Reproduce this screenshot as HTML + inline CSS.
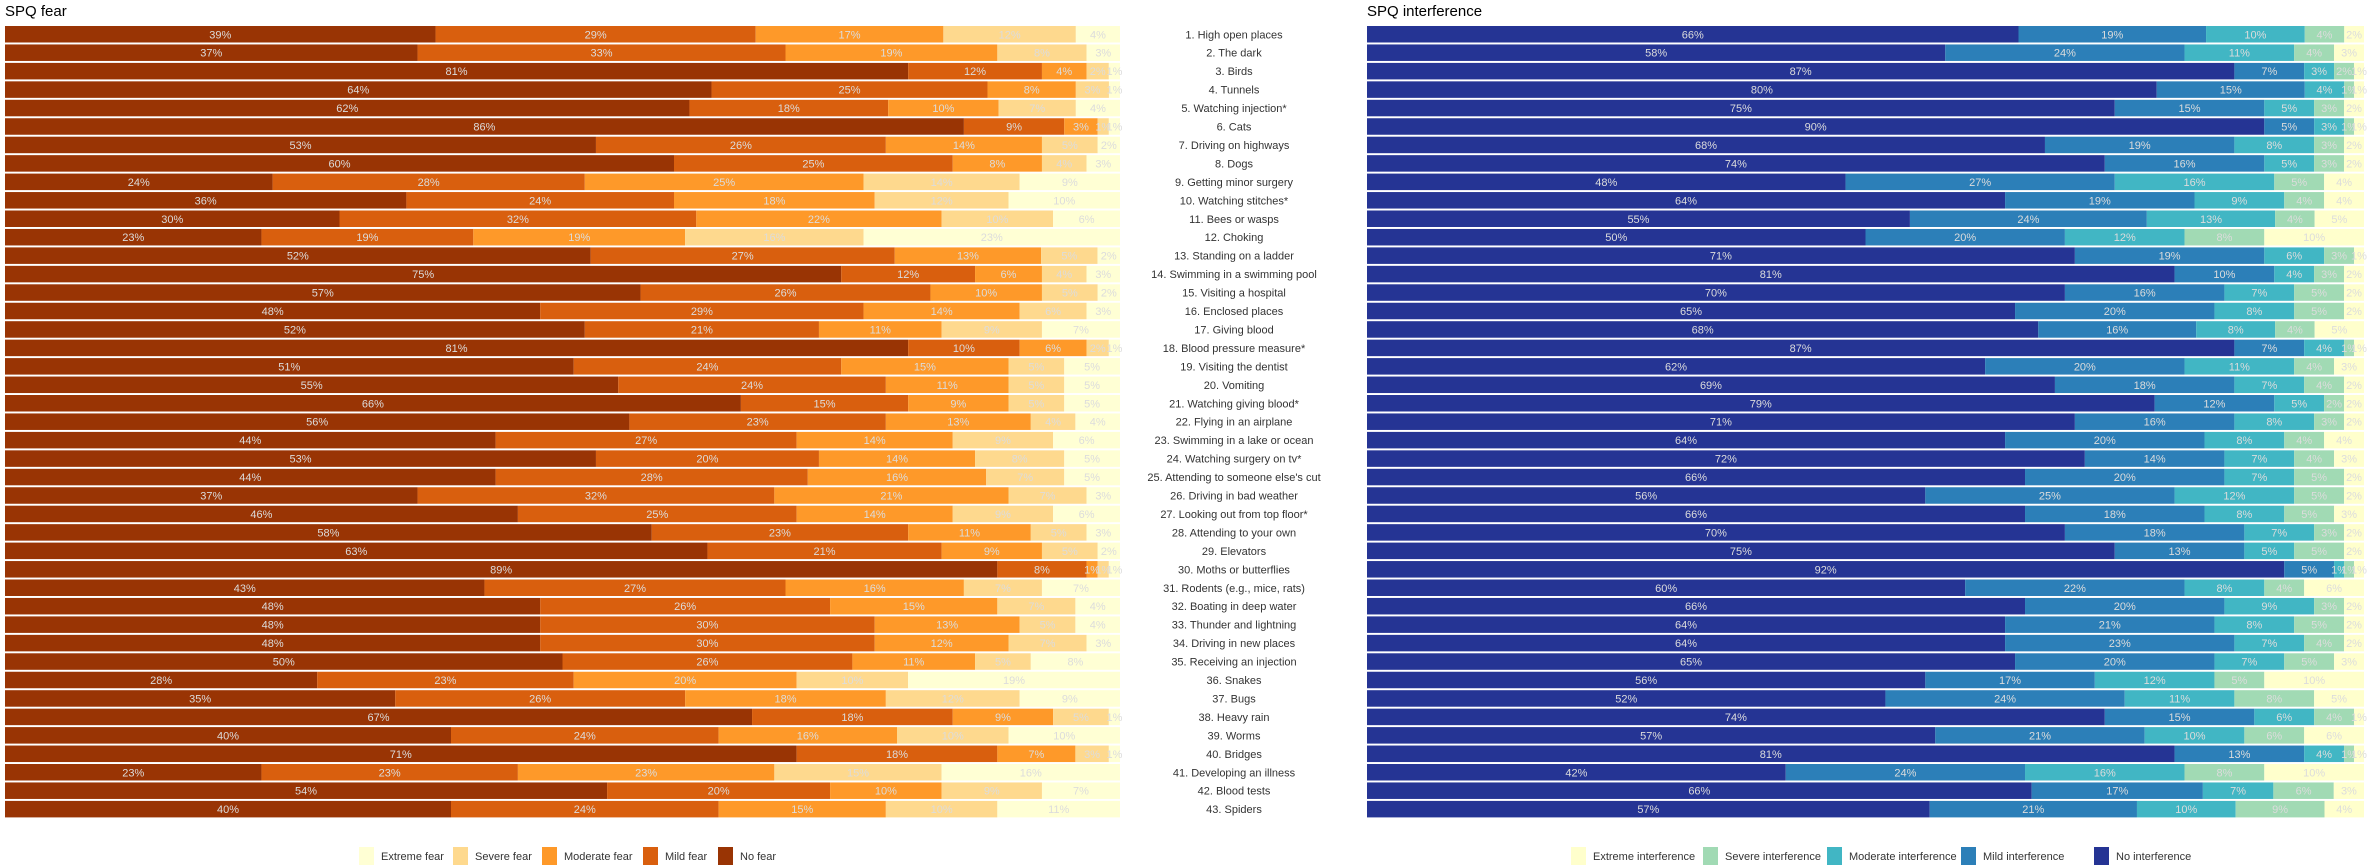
<!DOCTYPE html>
<html><head><meta charset="utf-8"><style>
html,body{margin:0;padding:0;background:#fff;}
svg{display:block;}
text{font-family:"Liberation Sans Narrow","Liberation Sans",sans-serif;}
</style></head><body>
<svg id="chart" width="2367" height="866" xmlns="http://www.w3.org/2000/svg">
<text x="5" y="16" font-size="15" fill="#000">SPQ fear</text>
<text x="1367" y="16" font-size="15" fill="#000">SPQ interference</text>
<g id="bars"></g>
</svg>
<script>
const items = ["1. High open places","2. The dark","3. Birds","4. Tunnels","5. Watching injection*","6. Cats","7. Driving on highways","8. Dogs","9. Getting minor surgery","10. Watching stitches*","11. Bees or wasps","12. Choking","13. Standing on a ladder","14. Swimming in a swimming pool","15. Visiting a hospital","16. Enclosed places","17. Giving blood","18. Blood pressure measure*","19. Visiting the dentist","20. Vomiting","21. Watching giving blood*","22. Flying in an airplane","23. Swimming in a lake or ocean","24. Watching surgery on tv*","25. Attending to someone else's cut","26. Driving in bad weather","27. Looking out from top floor*","28. Attending to your own","29. Elevators","30. Moths or butterflies","31. Rodents (e.g., mice, rats)","32. Boating in deep water","33. Thunder and lightning","34. Driving in new places","35. Receiving an injection","36. Snakes","37. Bugs","38. Heavy rain","39. Worms","40. Bridges","41. Developing an illness","42. Blood tests","43. Spiders"];
const fearNo =       [39,37,81,64,62,86,53,60,24,36,30,23,52,75,57,48,52,81,51,55,66,56,44,53,44,37,46,58,63,89,43,48,48,48,50,28,35,67,40,71,23,54,40];
const fearMild =     [29,33,12,25,18,9,26,25,28,24,32,19,27,12,26,29,21,10,24,24,15,23,27,20,28,32,25,23,21,8,27,26,30,30,26,23,26,18,24,18,23,20,24];
const fearModerate = [17,19,4,8,10,3,14,8,25,18,22,19,13,6,10,14,11,6,15,11,9,13,14,14,16,21,14,11,9,1,16,15,13,12,11,20,18,9,16,7,23,10,15];
const fearSevere =   [12,8,2,3,7,1,5,4,14,12,10,16,5,4,5,6,9,2,5,5,5,4,9,8,7,7,9,5,5,1,7,7,5,7,5,10,12,5,10,3,15,9,10];
const fearExtreme =  [4,3,1,1,4,1,2,3,9,10,6,23,2,3,2,3,7,1,5,5,5,4,6,5,5,3,6,3,2,1,7,4,4,3,8,19,9,1,10,1,16,7,11];
const intNo =        [66,58,87,80,75,90,68,74,48,64,55,50,71,81,70,65,68,87,62,69,79,71,64,72,66,56,66,70,75,92,60,66,64,64,65,56,52,74,57,81,42,66,57];
const intMild =      [19,24,7,15,15,5,19,16,27,19,24,20,19,10,16,20,16,7,20,18,12,16,20,14,20,25,18,18,13,5,22,20,21,23,20,17,24,15,21,13,24,17,21];
const intModerate =  [10,11,3,4,5,3,8,5,16,9,13,12,6,4,7,8,8,4,11,7,5,8,8,7,7,12,8,7,5,1,8,9,8,7,7,12,11,6,10,4,16,7,10];
const intSevere =    [4,4,2,1,3,1,3,3,5,4,4,8,3,3,5,5,4,1,4,4,2,3,4,4,5,5,5,3,5,1,4,3,5,4,5,5,8,4,6,1,8,6,9];
const intExtreme =   [2,3,1,1,2,1,2,2,4,4,5,10,1,2,2,2,5,1,3,2,2,2,4,3,2,2,3,2,2,1,6,2,2,2,3,10,5,1,6,1,10,3,4];

const fearNames = ["No fear","Mild fear","Moderate fear","Severe fear","Extreme fear"];
const intNames = ["No interference","Mild interference","Moderate interference","Severe interference","Extreme interference"];
const fearColors = ["#993404","#d95f0e","#fe9929","#fed98e","#ffffd4"];
const intColors = ["#253494","#2c7fb8","#41b6c4","#a1dab4","#ffffcc"];

const NS = "http://www.w3.org/2000/svg";
const g = document.getElementById('bars');
const top0 = 26, pitch = 18.45, bh = 16.5;
function yPos(i){ return top0 + i*pitch; }
function mk(tag, attrs){ const e = document.createElementNS(NS, tag); for (const k in attrs) e.setAttribute(k, attrs[k]); return e; }

function panel(series, colors, x0, w, key){
  for (let i = 0; i < items.length; i++){
    const vals = series.map(s => s[i]);
    const sum = vals.reduce((a,b)=>a+b,0);
    let cx = x0;
    const y = yPos(i);
    for (let k = 0; k < vals.length; k++){
      const sw = vals[k]/sum*w;
      const r = mk('rect', {x:cx, y:y, width:sw, height:bh, fill:colors[k]});
      
      
      g.appendChild(r);
      const t = mk('text', {x:cx+sw/2, y:y+bh/2+4, 'font-size':11, 'text-anchor':'middle', fill:'#dcdcdc'});
      t.textContent = vals[k] + '%';
      
      
      g.appendChild(t);
      cx += sw;
    }
  }
}
panel([fearNo,fearMild,fearModerate,fearSevere,fearExtreme], fearColors, 5, 1115, 'fear');
panel([intNo,intMild,intModerate,intSevere,intExtreme], intColors, 1367, 997, 'interference');

for (let i = 0; i < items.length; i++){
  const t = mk('text', {x:1234, y:yPos(i)+bh/2+4, 'font-size':11, 'text-anchor':'middle', fill:'#333'});
  t.textContent = items[i];
  
  
  g.appendChild(t);
}

const fearLegX = [718,643,542,453,359];
const intLegX = [2094,1961,1827,1703,1571];
function legend(names, colors, xs, key){
  for (let k = 0; k < names.length; k++){
    const r = mk('rect', {x:xs[k], y:847, width:15, height:18, fill:colors[k]});
    
    
    g.appendChild(r);
    const t = mk('text', {x:xs[k]+22, y:860, 'font-size':11, fill:'#333'});
    t.textContent = names[k];
    
    
    g.appendChild(t);
  }
}
legend(fearNames, fearColors, fearLegX, 'fear');
legend(intNames, intColors, intLegX, 'interference');
</script>
</body></html>
